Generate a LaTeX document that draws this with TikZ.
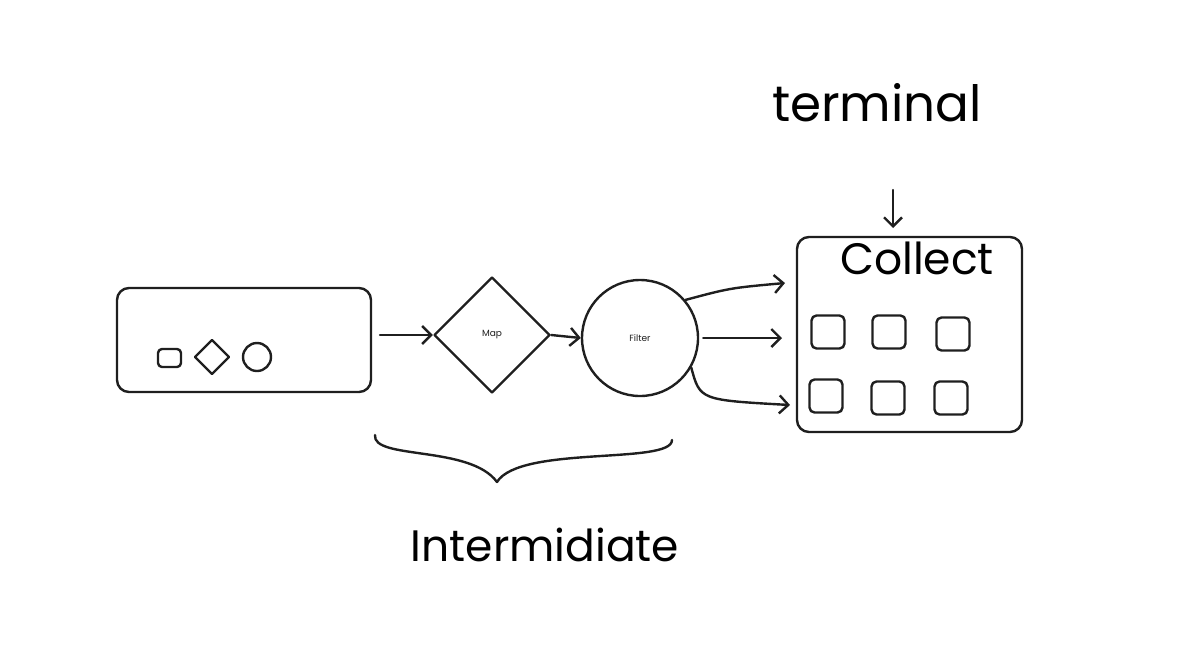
\documentclass[tikz,border=0pt]{standalone}
\usepackage{fontspec}
\setmainfont{Poppins}
\usetikzlibrary{arrows.meta,shapes.geometric}
\begin{document}
\begin{tikzpicture}[x=1pt,y=-1pt,
  ln/.style={line width=2.4pt,line cap=round,line join=round,color=black!88},
  ar/.style={ln,-{Straight Barb[length=9pt,width=18pt,line width=2.4pt]}},
  sq/.style={ln,rounded corners=5pt,minimum size=33pt,draw,inner sep=0pt}]
\useasboundingbox (0,0) rectangle (1200,649);
\draw[ln,rounded corners=12pt] (117,288) rectangle (371,392);
\draw[ln,rounded corners=4pt] (158,349) rectangle (181,367);
\draw[ln] (212,340) -- (229,357) -- (212,374) -- (195,357) -- cycle;
\draw[ln] (257,357) circle (14);
\node[ln,draw,diamond,minimum width=116pt,minimum height=116pt,inner sep=0pt,font=\small] (map) at (492,335) {Map};
\node[ln,draw,circle,minimum size=116pt,inner sep=0pt,font=\small] (filter) at (640,338) {Filter};
\node[ln,draw,rounded corners=12pt,minimum width=225pt,minimum height=195pt] (box) at (909.5,334.5) {};
\node[font=\fontsize{44}{44}\selectfont] (collect) at (917,258) {Collect};
\node[font=\fontsize{50}{50}\selectfont] (term) at (877,103) {terminal};
\coordinate (in1) at (380,335);
\draw[ar] (in1) -- (map.west);
\draw[ar] (map.east) -- (filter.west);
\coordinate (a1) at (785,283);
\coordinate (a2) at (782,338);
\coordinate (a3) at (790,405);
\draw[ar] (filter.40) .. controls (730,288) .. (a1);
\draw[ar] (filter.east) ++(4,0) -- (a2);
\draw[ar] (filter.-30) .. controls (700,400) .. (a3);
\coordinate (d1) at (893,190);
\coordinate (d2) at (893,228);
\draw[ar] (d1) -- (d2);
\foreach \x/\y/\n in {828/332/s1,889/332/s2,953/334/s3,826/396/s4,888/398/s5,951/398/s6}
  \node[sq] (\n) at (\x,\y) {};
\draw[ln] (375,435) .. controls (372,460) and (470,445) .. (497,482)
          .. controls (520,445) and (672,465) .. (672,440);
\node[font=\fontsize{44}{44}\selectfont] (inter) at (545,545) {Intermidiate};
\end{tikzpicture}
\end{document}
